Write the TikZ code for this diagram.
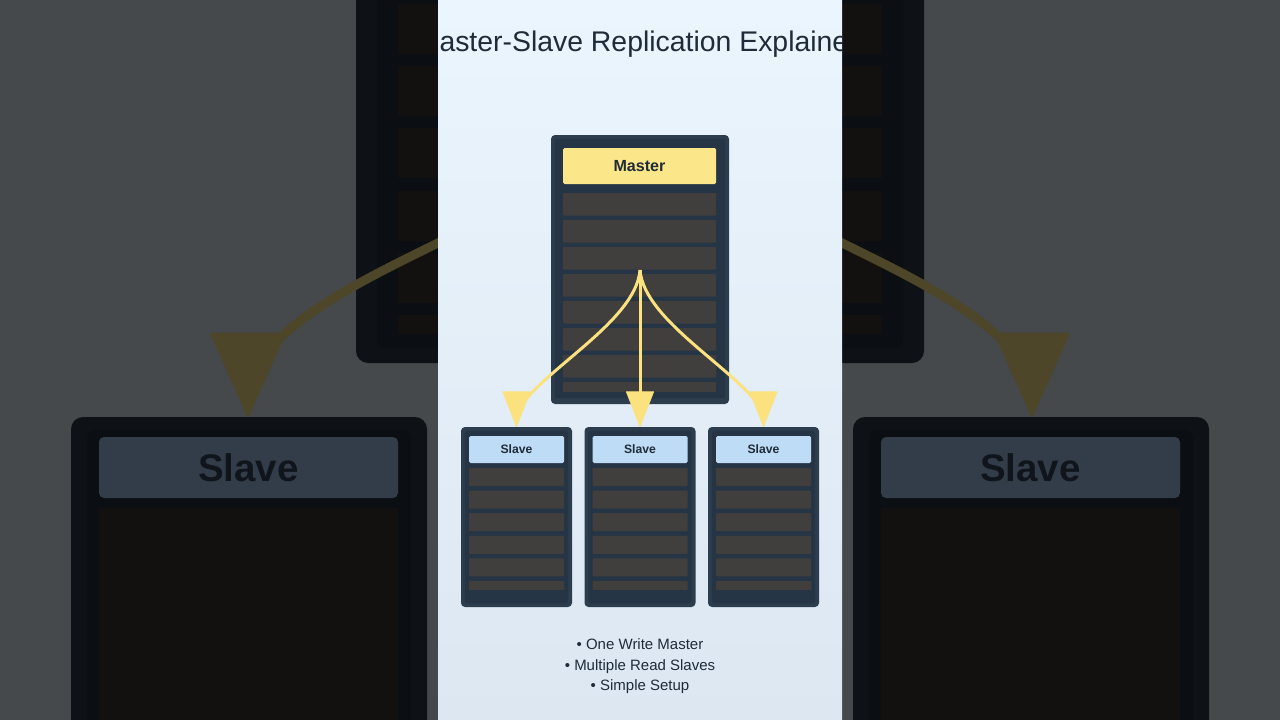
\documentclass[tikz,border=0pt]{standalone}
\usepackage{fontspec}
\setmainfont{Liberation Sans}
\usetikzlibrary{arrows.meta}

\definecolor{backdrop}{HTML}{45494C}
\definecolor{shadebox}{HTML}{0E1216}
\definecolor{shadeinner}{HTML}{0B0E12}
\definecolor{shaderow}{HTML}{131110}
\definecolor{shadelabel}{HTML}{333D49}
\definecolor{shadetext}{HTML}{10151C}
\definecolor{shadeyellow}{HTML}{4D4628}
\definecolor{panetop}{HTML}{EBF5FD}
\definecolor{panebottom}{HTML}{DCE7F2}
\definecolor{boxedge}{HTML}{2C3D4E}
\definecolor{boxinner}{HTML}{263545}
\definecolor{rowfill}{HTML}{403F3E}
\definecolor{masterfill}{HTML}{FCE68A}
\definecolor{slavefill}{HTML}{BFDCF7}
\definecolor{flowcol}{HTML}{FBE27E}
\definecolor{ink}{HTML}{1F2B38}

\begin{document}
\begin{tikzpicture}[x=1pt, y=-1pt,
  server/.style={fill=boxedge, rounded corners=4pt, inner sep=0pt},
  tag/.style={rounded corners=1.5pt, inner sep=0pt, text=ink},
  flow/.style={draw=flowcol, line width=3pt},
  flowhead/.style={fill=flowcol, draw=flowcol, line width=1pt, line join=round},
  bgflow/.style={draw=shadeyellow, line width=9pt},
  bghead/.style={fill=shadeyellow, draw=shadeyellow, line width=3pt, line join=round}]
	\useasboundingbox (0,0) rectangle (1280,720);
	% dimmed backdrop at the sides
	\fill[backdrop] (0,0) rectangle (1280,720);
	\fill[shadebox, rounded corners=12pt] (356,-30) rectangle (924,363);
	\fill[shadeinner, rounded corners=8pt] (377,-30) rectangle (903,348);
	\begin{scope}
		\clip (377,-30) rectangle (903,333);
		\foreach \k in {0,...,5}
			\fill[shaderow] (398,4+62.2*\k) rectangle (882,54+62.2*\k);
	\end{scope}
	\foreach \x/\n in {71/bgl, 853/bgr} {
		\fill[shadebox, rounded corners=12pt] (\x,417) rectangle (\x+356,760);
		\fill[shadeinner, rounded corners=8pt] (\x+16,430) rectangle (\x+340,760);
		\node[fill=shadelabel, rounded corners=5pt, minimum width=299pt, minimum height=61pt, inner sep=0pt,
			text=shadetext, font=\fontsize{38.5}{44}\selectfont\bfseries] (\n) at (\x+177.5,467.5) {Slave};
		\fill[shaderow] (\x+28,508) rectangle (\x+327,760);
	}
	\draw[bgflow] (450,237) .. controls (380,272) and (290,312) .. (255,368);
	\draw[bghead] (212,334) -- (284,334) -- (248,415) -- cycle;
	\draw[bgflow] (830,237) .. controls (900,272) and (990,312) .. (1025,368);
	\draw[bghead] (996,334) -- (1068,334) -- (1032,415) -- cycle;
	% the panel itself
	\fill[top color=panetop, bottom color=panebottom] (438,0) rectangle (842,720);
	\begin{scope}
		\clip (438,0) rectangle (842,720);
		\node[text=ink, font=\fontsize{28.4}{34}\selectfont] (title) at (640,44) {Master-Slave Replication Explained};
	\end{scope}
	% master
	\node[server, minimum width=178pt, minimum height=269pt] (master) at (640,269.5) {};
	\fill[boxinner, rounded corners=3pt] ([shift={(4,4)}]master.north west) rectangle ([shift={(-4,-6)}]master.south east);
	\node[tag, fill=masterfill, minimum width=153pt, minimum height=36pt, font=\fontsize{16.1}{19}\selectfont\bfseries] (mlabel) at (639.5,166) {Master};
	\begin{scope}
		\clip (555,139) rectangle (725,391.5);
		\foreach \k in {0,...,7}
			\fill[rowfill, rounded corners=1pt] (563,193+27*\k) rectangle (716,215.5+27*\k);
	\end{scope}
	% slaves
	\foreach \x/\n in {516.5/s1, 640/s2, 763.5/s3} {
		\node[server, minimum width=111pt, minimum height=180pt] (\n) at (\x,517) {};
		\fill[boxinner, rounded corners=3pt] ([shift={(4,4)}]\n.north west) rectangle ([shift={(-4,-4)}]\n.south east);
		\node[tag, fill=slavefill, minimum width=95pt, minimum height=27pt, font=\fontsize{12.2}{15}\selectfont\bfseries] (\n label) at (\x,449.5) {Slave};
		\begin{scope}
			\clip (\x-48,465) rectangle (\x+48,589.5);
			\foreach \k in {0,...,5}
				\fill[rowfill, rounded corners=1pt] (\x-47.5,468+22.6*\k) rectangle (\x+47.5,486+22.6*\k);
		\end{scope}
	}
	% replication
	\coordinate (fork) at (640,270);
	\draw[flow] (fork) .. controls (636,322) and (538,372) .. ([shift={(0,-14)}]s1.north);
	\draw[flow] (fork) -- ([shift={(0,-14)}]s2.north);
	\draw[flow] (fork) .. controls (644,322) and (742,372) .. ([shift={(0,-14)}]s3.north);
	\foreach \n in {s1, s2, s3}
		\draw[flowhead] ([shift={(-13.5,-35)}]\n.north) -- ([shift={(13.5,-35)}]\n.north) -- ([shift={(0,-0.5)}]\n.north) -- cycle;
	% notes
	\node[text=ink, align=center, font=\fontsize{15}{20.5}\selectfont] (notes) at (640,666.5)
		{• One Write Master\\• Multiple Read Slaves\\• Simple Setup};
\end{tikzpicture}
\end{document}
